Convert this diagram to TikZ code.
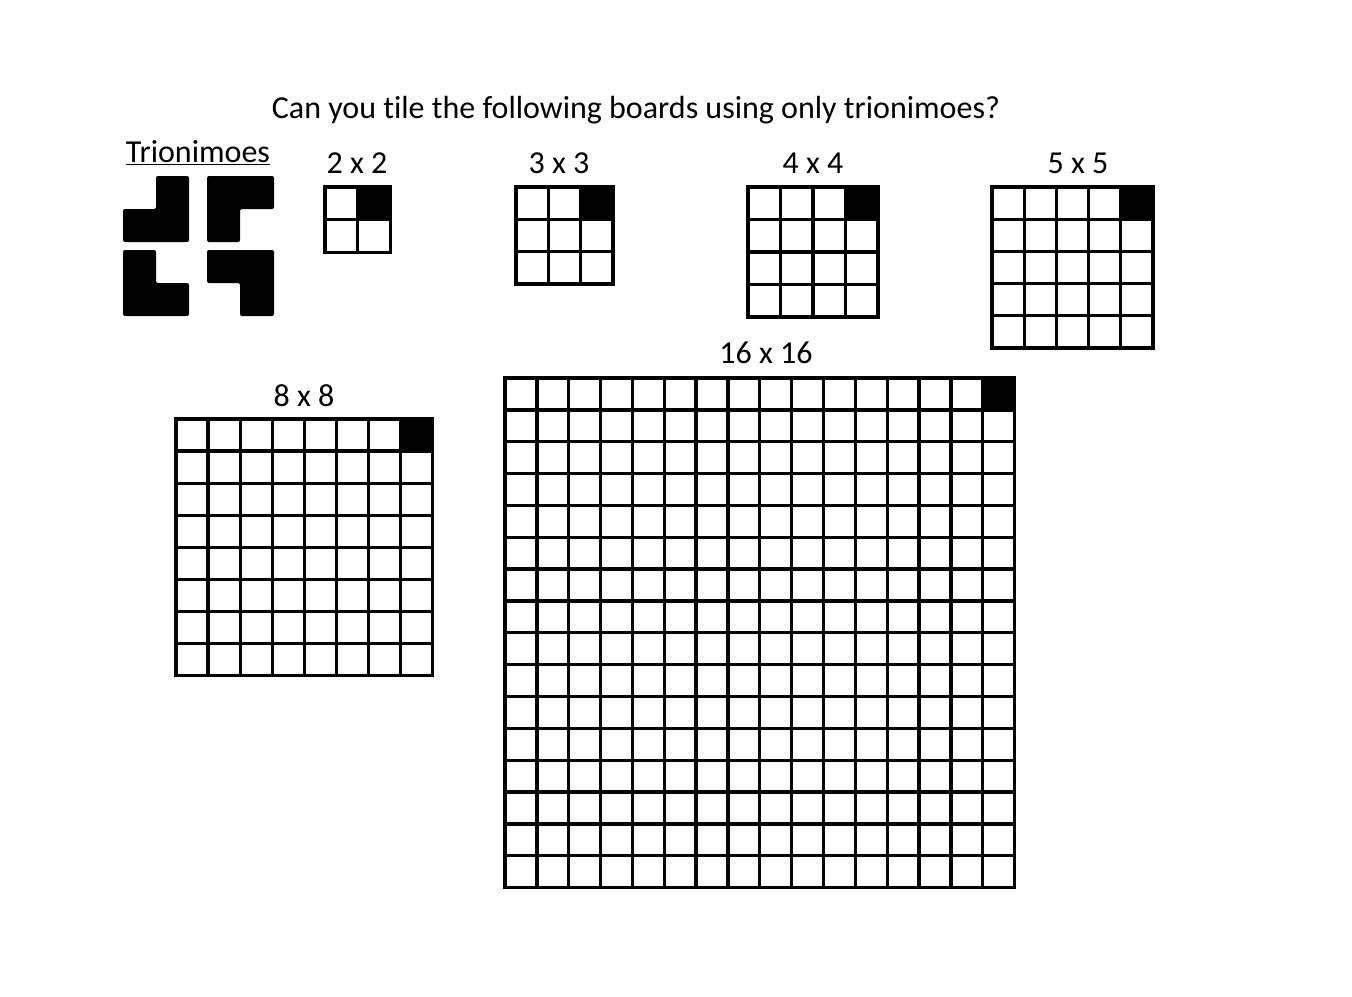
\documentclass[tikz,border=0pt]{standalone}
\usepackage{fontspec}
\setmainfont{Carlito}[Ligatures=NoCommon]
\usepackage{tikz}

% board: left, top, cells per side, cell size, name
\newcommand{\board}[5]{%
  \coordinate (#5) at (#1,#2);
  \fill (#1+#3*#4-#4,#2) rectangle (#1+#3*#4,#2+#4);
  \foreach \i in {0,...,#3} {
    \draw[gridline] (#1+\i*#4,#2) -- (#1+\i*#4,#2+#3*#4);
    \draw[gridline] (#1,#2+\i*#4) -- (#1+#3*#4,#2+\i*#4);
  }
}

\begin{document}
\begin{tikzpicture}[x=0.75pt, y=-0.75pt]
        \tikzstyle{gridline} = [line width=2.5pt, line cap=rect]
        \tikzstyle{piece} = [fill=black, rounded corners=1.5pt]
        \tikzstyle{label} = [font=\fontsize{24}{28}\selectfont, inner sep=0pt]
        \useasboundingbox (0,0) rectangle (1352,996);
        \node[label] (title) at (636,110) {Can you tile the following boards using only trionimoes?};
        \node[label] (tri) at (198,153) {\underline{Trionimoes}};
        % the four trionimoes
        \fill[piece] (156,176) -- (189,176) -- (189,242) -- (123,242) -- (123,209) -- (156,209) -- cycle;
        \fill[piece] (207,176) -- (274,176) -- (274,209) -- (240,209) -- (240,242) -- (207,242) -- cycle;
        \fill[piece] (123,250) -- (156,250) -- (156,283) -- (189,283) -- (189,316) -- (123,316) -- cycle;
        \fill[piece] (207,250) -- (274,250) -- (274,316) -- (240,316) -- (240,283) -- (207,283) -- cycle;
        % boards
        \board{325}{187}{2}{32.7}{B2}
        \board{516}{187}{3}{32.3}{B3}
        \board{748}{187}{4}{32.5}{B4}
        \board{992}{187}{5}{32.2}{B5}
        \board{176}{419}{8}{32.1}{B8}
        \board{505}{378}{16}{31.85}{B16}
        \node[label] (l2) at (357,163) {2 x 2};
        \node[label] (l3) at (559,163) {3 x 3};
        \node[label] (l4) at (813,163) {4 x 4};
        \node[label] (l5) at (1078,163) {5 x 5};
        \node[label] (l8) at (304,396) {8 x 8};
        \node[label] (l16) at (766,353) {16 x 16};
    \end{tikzpicture}
\end{document}
